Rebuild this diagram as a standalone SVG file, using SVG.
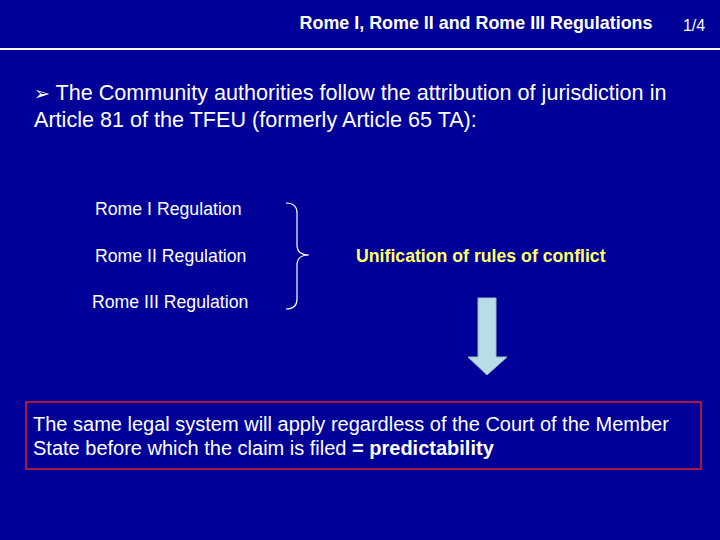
<svg xmlns="http://www.w3.org/2000/svg" width="720" height="540" viewBox="0 0 720 540">
<style>
text{font-family:"Liberation Sans",Arial,sans-serif;fill:#fff}
.t{font-size:17.7px}
.b{font-size:20px}
.i{font-size:21.6px}
</style>
<rect width="720" height="540" fill="#000099"/>
<g id="header">
<text x="476" y="29" text-anchor="middle" font-weight="bold" font-size="17.9">Rome I, Rome II and Rome III Regulations</text>
<text x="694" y="31" text-anchor="middle" font-size="16">1/4</text>
<line x1="0" y1="49" x2="720" y2="49" stroke="#fff" stroke-width="2"/>
</g>
<g id="intro">
<text class="i" x="34" y="100"><tspan font-family="DejaVu Sans" font-size="19">➢</tspan> The Community authorities follow the attribution of jurisdiction in</text>
<text class="i" x="34" y="127">Article 81 of the TFEU (formerly Article 65 TA):</text>
</g>
<g id="rome1"><text class="t" x="95" y="215">Rome I Regulation</text></g>
<g id="rome2"><text class="t" x="95" y="262">Rome II Regulation</text></g>
<g id="rome3"><text class="t" x="92" y="308">Rome III Regulation</text></g>
<g id="unification"><text class="t" x="356" y="262" font-weight="bold" style="fill:#ffff66">Unification of rules of conflict</text></g>
<g id="connectors">
<path d="M286 203 Q297 203 297 213 L297 245 Q297 255 309 255 Q297 255 297 265 L297 299 Q297 309 286 309" fill="none" stroke="#fff" stroke-width="1.2"/>
<path d="M478 298 H496 V357 H507 L487 375 L468 357 H478 Z" fill="#b8dde6" stroke="#9bbcc4" stroke-width="1"/>
</g>
<g id="result">
<rect x="26" y="402" width="675" height="67" fill="none" stroke="#e02020" stroke-width="1.5"/>
<text class="b" x="33" y="431">The same legal system will apply regardless of the Court of the Member</text>
<text class="b" x="33" y="455">State before which the claim is filed <tspan font-weight="bold">= predictability</tspan></text>
</g>
</svg>
